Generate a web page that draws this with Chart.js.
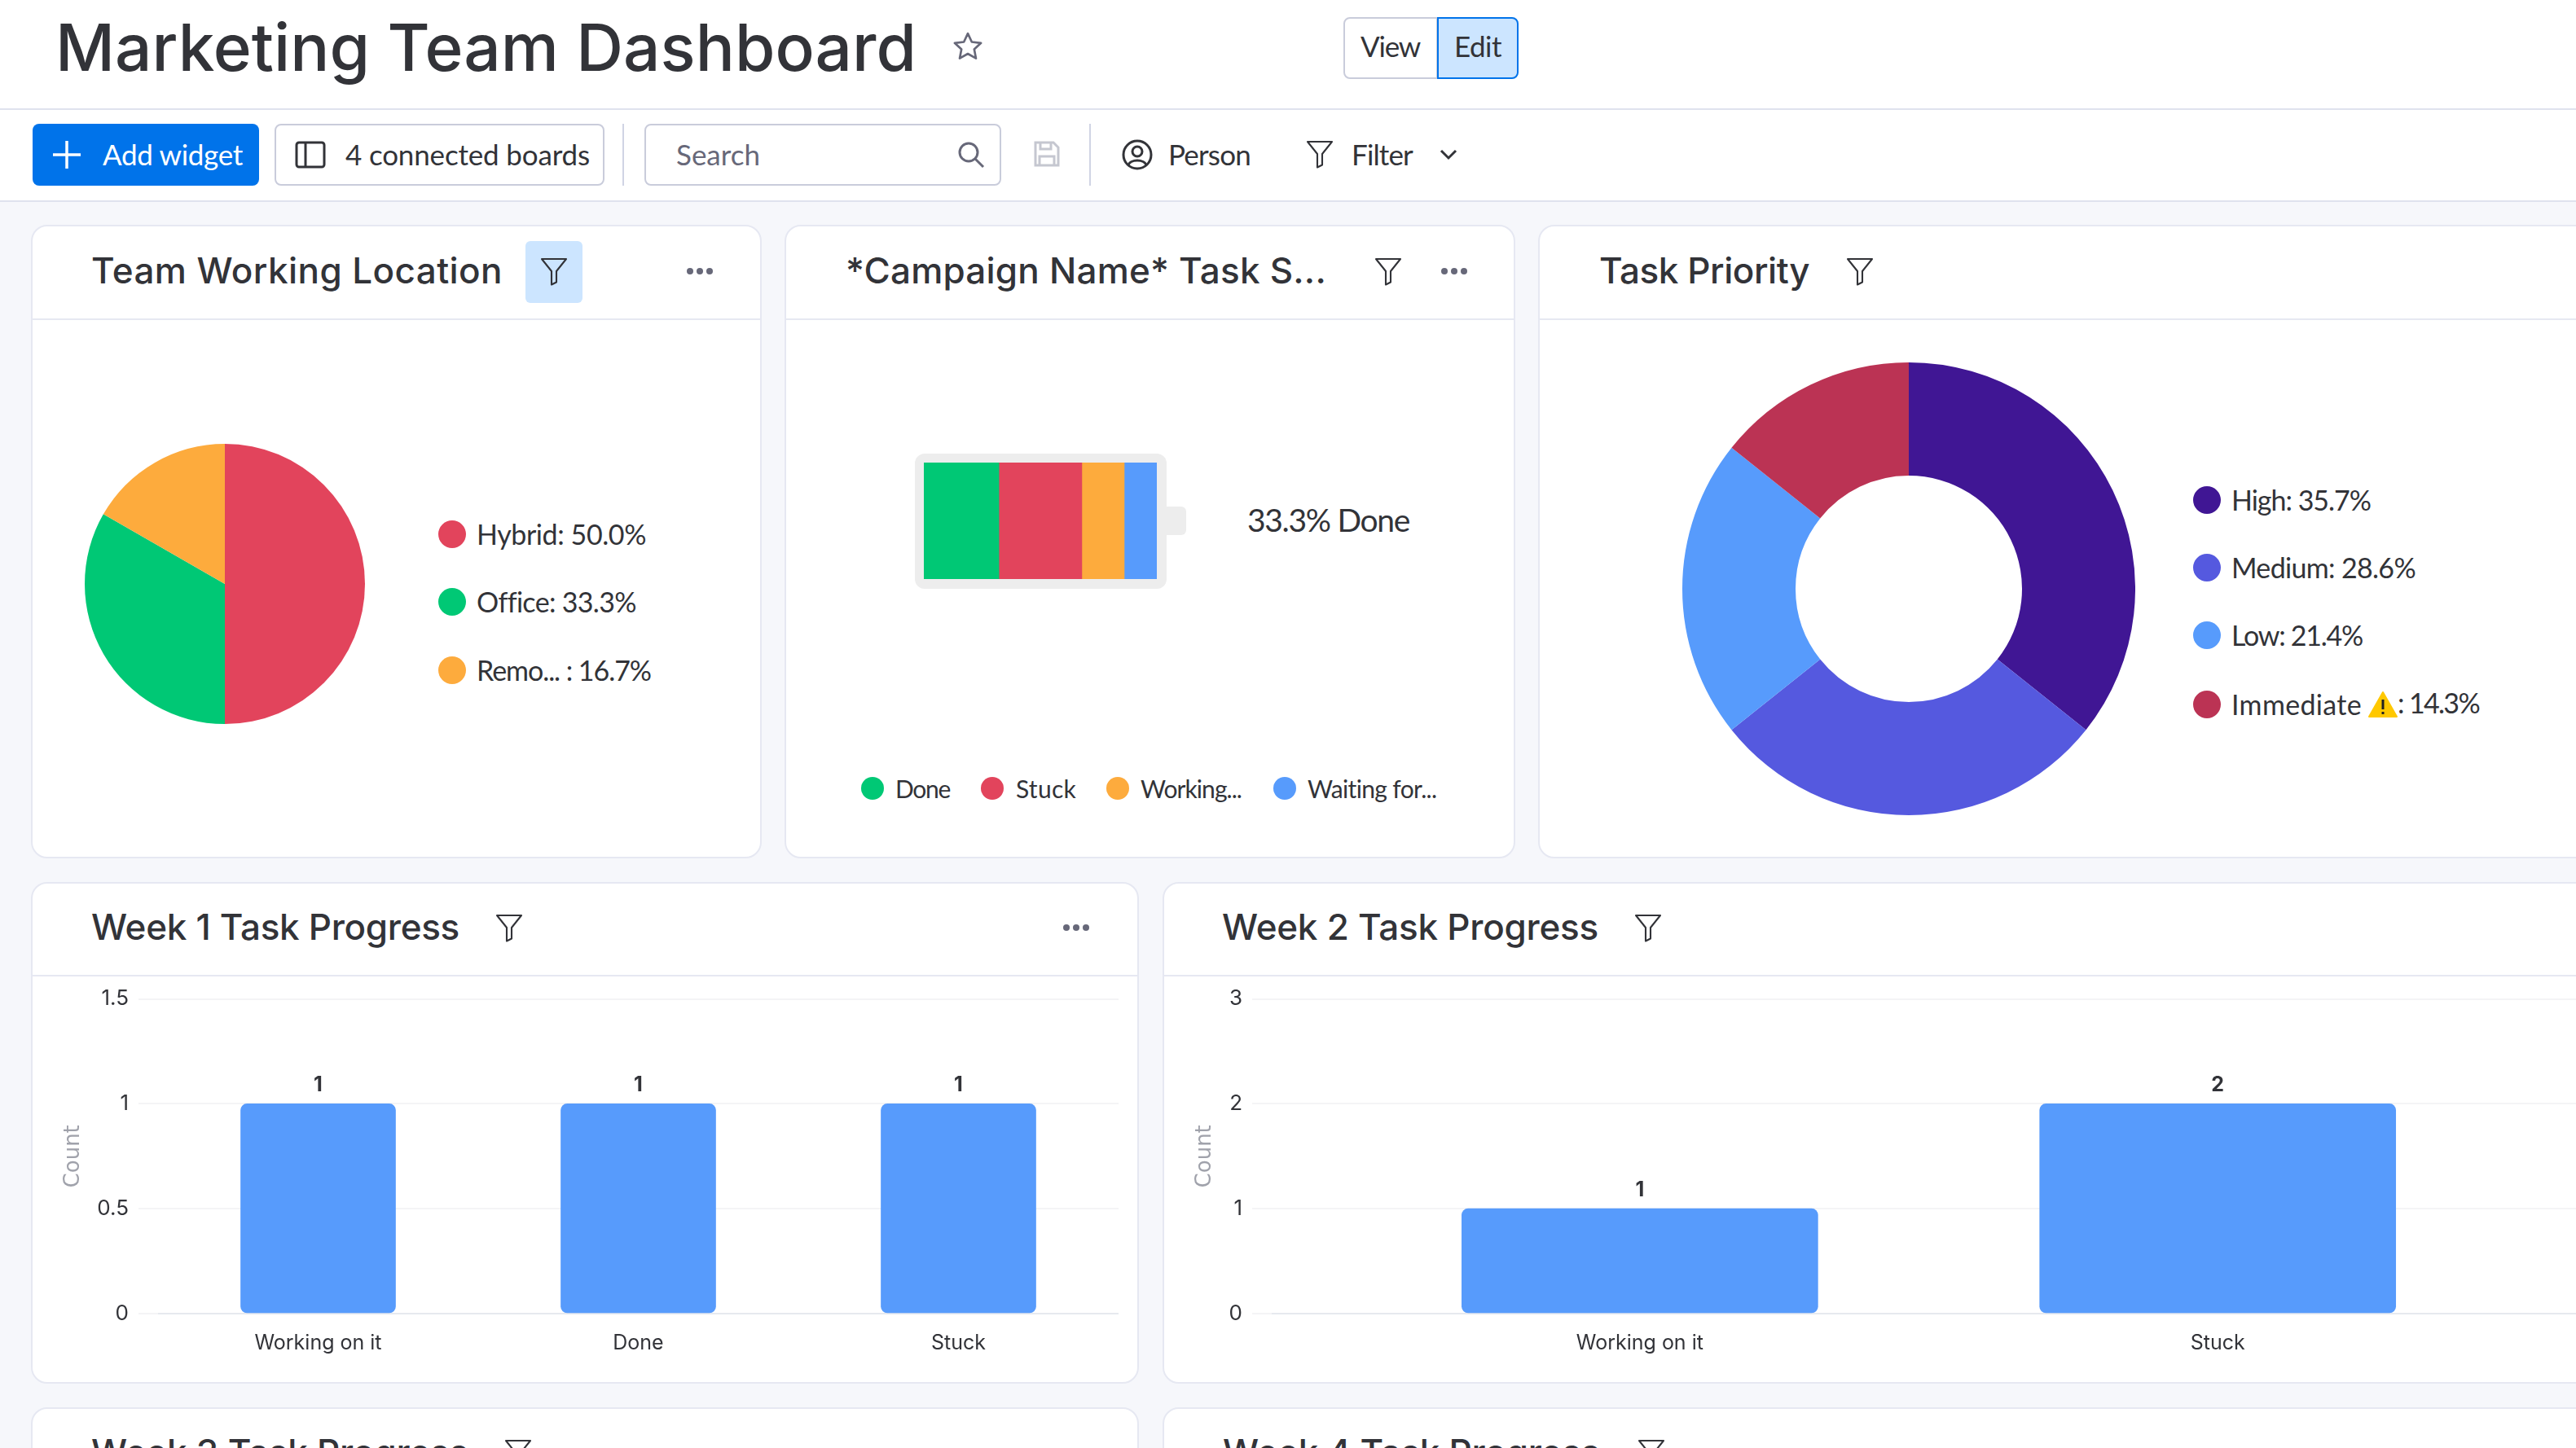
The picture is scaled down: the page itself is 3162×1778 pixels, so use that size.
<!DOCTYPE html>
<html>
<head>
<meta charset="utf-8">
<title>Marketing Team Dashboard</title>
<script src="https://cdn.jsdelivr.net/npm/chart.js@4"></script>
<style>
html, body { margin: 0; padding: 0; width: 3162px; height: 1778px; overflow: hidden; background: #f6f7fb; }
body { position: relative; font-family: Lato, sans-serif; color: #323338; }
div, canvas, svg { position: absolute; }
.t { white-space: nowrap; line-height: 1; transform: translateY(-50%); }
.title { font-family: Inter, sans-serif; font-weight: 500; font-size: 44px; }
.tool { font-size: 35px; }
.leg { font-size: 34px; }
.leg2 { font-size: 30px; }
.bar { background: #fff; }
.card { background: #fff; border: 2px solid #e6e8f2; border-radius: 20px; box-sizing: border-box; overflow: hidden; }
.hline { height: 2px; background: #e6e8f2; }
.btn { border: 2px solid #c9ccdb; border-radius: 8px; box-sizing: border-box; background: #fff; }
.sep { width: 2px; background: #d0d4e4; }
.dot { border-radius: 50%; }
.more { width: 8px; height: 8px; border-radius: 50%; background: #676879; }
</style>
</head>
<body>

<!-- page header -->
<div class="bar" style="left:0;top:0;width:3162px;height:247px"></div>
<div class="hline" style="left:0;top:133px;width:3162px;background:#dfe2ee"></div>
<div class="hline" style="left:0;top:246px;width:3162px;background:#dfe2ee"></div>
<div class="t" data-w="1057" style="left:68px;top:57px;font:500 80px Inter,sans-serif">Marketing Team Dashboard</div>
<svg style="left:1168px;top:37px" width="40" height="40" viewBox="0 0 24 24" fill="none" stroke="#676879" stroke-width="1.6" stroke-linejoin="round"><path d="M12 2.5l2.9 6.2 6.8.8-5 4.6 1.3 6.7-6-3.4-6 3.4 1.3-6.7-5-4.6 6.8-.8z"/></svg>
<div class="btn" style="left:1649px;top:21px;width:116px;height:76px;border-radius:8px 0 0 8px"></div>
<div class="btn" style="left:1764px;top:21px;width:100px;height:76px;border:2px solid #0073ea;border-radius:0 8px 8px 0;background:#cce5ff"></div>
<div class="t tool" data-w="73" style="left:1670px;top:56px">View</div>
<div class="t tool" data-w="58" style="left:1785px;top:56px">Edit</div>

<!-- toolbar -->
<div style="left:40px;top:152px;width:278px;height:76px;background:#0073ea;border-radius:8px"></div>
<svg style="left:62px;top:170px" width="40" height="40" viewBox="0 0 40 40" stroke="#fff" stroke-width="3.5"><path d="M20 3V37M3 20H37"/></svg>
<div class="t tool" data-w="172" style="left:126px;top:189px;color:#fff">Add widget</div>
<div class="btn" style="left:337px;top:152px;width:405px;height:76px"></div>
<svg style="left:362px;top:172px" width="38" height="36" viewBox="0 0 38 36" fill="none" stroke="#323338" stroke-width="3"><rect x="2" y="3" width="34" height="30" rx="3"/><path d="M13 3V33"/></svg>
<div class="t tool" data-w="300" style="left:424px;top:189px">4 connected boards</div>
<div class="sep" style="left:764px;top:152px;height:76px"></div>
<div class="btn" style="left:791px;top:152px;width:438px;height:76px"></div>
<div class="t tool" data-w="103" style="left:830px;top:189px;color:#676879">Search</div>
<svg style="left:1174px;top:172px" width="36" height="36" viewBox="0 0 36 36" fill="none" stroke="#676879" stroke-width="3"><circle cx="15" cy="15" r="11"/><path d="M23 23L33 33"/></svg>
<svg style="left:1268px;top:172px" width="34" height="34" viewBox="0 0 34 34" fill="none" stroke="#c5c7d0" stroke-width="3"><path d="M3 3H25L31 9V31H3Z"/><path d="M9 3V11H22V3M8 31V20H26V31"/></svg>
<div class="sep" style="left:1337px;top:152px;height:76px"></div>
<svg style="left:1377px;top:171px" width="38" height="38" viewBox="0 0 38 38" fill="none" stroke="#323338" stroke-width="3"><circle cx="19" cy="19" r="17"/><circle cx="19" cy="15" r="6"/><path d="M8 32C10 24 28 24 30 32"/></svg>
<div class="t tool" data-w="101" style="left:1434px;top:189px">Person</div>
<div class="t tool" data-w="75" style="left:1659px;top:189px">Filter</div>
<svg style="left:1767px;top:182px" width="22" height="16" viewBox="0 0 22 16" fill="none" stroke="#323338" stroke-width="3"><path d="M2 3L11 12L20 3"/></svg>

<!-- first row -->
<div class="card" style="left:38px;top:276px;width:897px;height:778px"></div>
<div class="card" style="left:963px;top:276px;width:897px;height:778px"></div>
<div class="card" style="left:1888px;top:276px;width:1400px;height:778px"></div>
<div class="hline" style="left:40px;top:391px;width:893px"></div>
<div class="hline" style="left:965px;top:391px;width:893px"></div>
<div class="hline" style="left:1890px;top:391px;width:1272px"></div>
<div class="t title" data-w="505" style="left:112px;top:332px">Team Working Location</div>
<div style="left:645px;top:296px;width:70px;height:76px;background:#cce5ff;border-radius:6px"></div>
<div class="t title" data-w="590" style="left:1038px;top:332px">*Campaign Name* Task S...</div>
<div class="t title" data-w="258" style="left:1963px;top:332px">Task Priority</div>

<canvas id="chartLocation" width="344" height="344" style="left:104px;top:545px"></canvas>
<canvas id="chartStatus" width="286" height="143" style="left:1134px;top:568px;z-index:2"></canvas>
<div style="left:1123px;top:557px;width:309px;height:166px;background:#ededed;border-radius:12px"></div>
<div style="left:1432px;top:622px;width:24px;height:35px;background:#ededed;border-radius:0 6px 6px 0"></div>
<div class="t" data-w="199" style="left:1531px;top:638px;font-size:39px">33.3% Done</div>
<canvas id="chartPriority" width="556" height="556" style="left:2065px;top:445px"></canvas>

<!-- second row -->
<div class="card" style="left:38px;top:1083px;width:1360px;height:616px"></div>
<div class="card" style="left:1427px;top:1083px;width:1800px;height:616px"></div>
<div class="hline" style="left:40px;top:1197px;width:1357px"></div>
<div class="hline" style="left:1429px;top:1197px;width:1733px"></div>
<div class="t title" data-w="452" style="left:112px;top:1138px">Week 1 Task Progress</div>
<div class="t title" data-w="462" style="left:1500px;top:1138px">Week 2 Task Progress</div>
<canvas id="chartWeek1" width="1357" height="498" style="left:40px;top:1199px"></canvas>
<canvas id="chartWeek2" width="1733" height="498" style="left:1429px;top:1199px"></canvas>

<!-- third row, cut by the window -->
<div class="card" style="left:38px;top:1728px;width:1360px;height:300px"></div>
<div class="card" style="left:1427px;top:1728px;width:1800px;height:300px"></div>
<div class="t title" data-w="463" style="left:112px;top:1783px">Week 3 Task Progress</div>
<div class="t title" data-w="463" style="left:1501px;top:1783px">Week 4 Task Progress</div>

<script>
// chart values
const locationNames = ['Hybrid', 'Office', 'Remo... '];
const locationValues = [50.0, 33.3, 16.7];
const statusNames = ['Done', 'Stuck', 'Working...', 'Waiting for...'];
const statusValues = [32.2, 35.6, 18.2, 14.0];
const priorityNames = ['High', 'Medium', 'Low', 'Immediate'];
const priorityValues = [35.7, 28.6, 21.4, 14.3];
const week1Labels = ['Working on it', 'Done', 'Stuck'];
const week1Values = [1, 1, 1];
const week1Ticks = [0, 0.5, 1, 1.5];
const week2Labels = ['Working on it', 'Stuck'];
const week2Values = [1, 2];
const week2Ticks = [0, 1, 2, 3];

const GREEN = '#00c875', RED = '#e2445c', ORANGE = '#fdab3d', BLUE = '#579bfc';
const locationColors = [RED, GREEN, ORANGE];
const statusColors = [GREEN, RED, ORANGE, BLUE];
const priorityColors = ['#401694', '#5559df', BLUE, '#bb3354'];

Chart.defaults.animation = false;
Chart.defaults.responsive = false;
Chart.defaults.font.family = 'Inter, sans-serif';
Chart.defaults.color = '#323338';

function pieChart(id, type, names, values, colors, cutout) {
    return new Chart(document.getElementById(id), {
        type: type,
        data: { labels: names, datasets: [{ data: values, backgroundColor: colors, borderWidth: 0 }] },
        options: { cutout: cutout, plugins: { legend: { display: false }, tooltip: { enabled: false } } }
    });
}

pieChart('chartLocation', 'pie', locationNames, locationValues, locationColors, 0);
pieChart('chartPriority', 'doughnut', priorityNames, priorityValues, priorityColors, '50%');

// battery is one stacked horizontal bar
new Chart(document.getElementById('chartStatus'), {
    type: 'bar',
    data: {
        labels: ['Status'],
        datasets: statusNames.map((name, i) => ({
            label: name, data: [statusValues[i]], backgroundColor: statusColors[i],
            barPercentage: 1, categoryPercentage: 1
        }))
    },
    options: {
        indexAxis: 'y',
        plugins: { legend: { display: false }, tooltip: { enabled: false } },
        scales: {
            x: { stacked: true, display: false, min: 0, max: 100 },
            y: { stacked: true, display: false }
        }
    }
});

// number above each bar
const valueLabels = {
    id: 'valueLabels',
    afterDatasetsDraw(chart) {
        const ctx = chart.ctx;
        ctx.save();
        ctx.font = '700 25px Inter, sans-serif';
        ctx.fillStyle = '#323338';
        ctx.textAlign = 'center';
        ctx.textBaseline = 'middle';
        chart.getDatasetMeta(0).data.forEach((bar, i) => {
            ctx.fillText(chart.data.datasets[0].data[i].y, bar.x, bar.y - 23);
        });
        ctx.restore();
    }
};

// x is a linear scale so the plot can start left of the first half slot, as in Week 2
function barChart(id, labels, values, yTicks, xMin, xMax, barWidth, axisWidth, paddingRight) {
    return new Chart(document.getElementById(id), {
        type: 'bar',
        data: {
            datasets: [{
                data: values.map((v, i) => ({ x: i, y: v })),
                backgroundColor: BLUE,
                barThickness: barWidth,
                borderRadius: 8,
                borderSkipped: false
            }]
        },
        plugins: [valueLabels],
        options: {
            layout: { padding: { top: 26, right: paddingRight } },
            plugins: { legend: { display: false }, tooltip: { enabled: false } },
            scales: {
                x: {
                    type: 'linear',
                    min: xMin,
                    max: xMax,
                    offset: false,
                    afterBuildTicks: s => { s.ticks = labels.map((_, i) => ({ value: i })); },
                    afterFit: s => { s.height = 84; },
                    grid: { display: false, drawTicks: false, offset: false },
                    border: { display: false },
                    ticks: {
                        autoSkip: false, maxRotation: 0, padding: 21, color: '#323338',
                        font: { size: 25 },
                        callback: v => labels[v]
                    }
                },
                y: {
                    min: yTicks[0],
                    max: yTicks[yTicks.length - 1],
                    afterBuildTicks: s => { s.ticks = yTicks.map(v => ({ value: v })); },
                    afterFit: s => { s.width = axisWidth; },
                    border: { display: false },
                    grid: {
                        lineWidth: 2,
                        tickLength: 24,
                        tickColor: '#f4f4f6',
                        color: c => c.tick.value === 0 ? '#e6e9ef' : '#f4f4f6'
                    },
                    ticks: { padding: 12, color: '#323338', font: { size: 26 }, callback: v => String(v) },
                    title: {
                        display: true, text: 'Count', color: '#a0a2ab',
                        font: { family: 'DejaVu Sans', size: 26 },
                        padding: { top: 35, bottom: 0 }
                    }
                }
            }
        }
    });
}

barChart('chartWeek1', week1Labels, week1Values, week1Ticks, -0.5, 2.5, 190, 154, 24);
barChart('chartWeek2', week2Labels, week2Values, week2Ticks, -0.637, 1.62, 437, 132, 0);

// html bits: legends and icons
function addEl(html) {
    document.body.insertAdjacentHTML('beforeend', html);
}

function legendItem(cls, color, text, dotX, textX, y, r, w) {
    addEl(`<div class="dot" style="left:${dotX - r}px;top:${y - r}px;width:${r * 2}px;height:${r * 2}px;background:${color}"></div>`);
    addEl(`<div class="t ${cls}" data-w="${w}" style="left:${textX}px;top:${y}px">${text}</div>`);
}

const pct = v => v.toFixed(1) + '%';

[656, 739, 823].forEach((y, i) => {
    legendItem('leg', locationColors[i], `${locationNames[i]}: ${pct(locationValues[i])}`, 555, 585, y, 17, [208, 194, 214][i]);
});
[[1071, 1099, 67], [1218, 1247, 74], [1372, 1400, 124], [1577, 1605, 159]].forEach((p, i) => {
    legendItem('leg2', statusColors[i], statusNames[i], p[0], p[1], 968, 14, p[2]);
});
[614, 697, 780].forEach((y, i) => {
    legendItem('leg', priorityColors[i], `${priorityNames[i]}: ${pct(priorityValues[i])}`, 2709, 2739, y, 17, [171, 226, 161][i]);
});
legendItem('leg', priorityColors[3], priorityNames[3], 2709, 2739, 865, 17, 160);
addEl(`<div class="t leg" data-w="100" style="left:2943px;top:863px">: ${pct(priorityValues[3])}</div>`);
addEl('<svg style="left:2907px;top:848px" width="36" height="34" viewBox="0 0 36 34"><path d="M18 2L35 32H1Z" fill="#ffc800" stroke="#ffc800" stroke-width="2" stroke-linejoin="round"/><path d="M18 11V23M18 26V29" stroke="#222" stroke-width="3"/></svg>');

function funnel(cx, cy, size) {
    addEl(`<svg style="left:${cx - size / 2}px;top:${cy - size / 2}px" width="${size}" height="${size}" viewBox="0 0 24 24" fill="none" stroke="#323338" stroke-width="1.4" stroke-linejoin="round"><path d="M2 2H22L14 12V21L10 23V12Z"/></svg>`);
}
function moreDots(cx, cy) {
    [-12, 0, 12].forEach(dx => addEl(`<div class="more" style="left:${cx + dx - 4}px;top:${cy - 4}px"></div>`));
}

[[1620, 189], [680, 333], [1704, 333], [2283, 333], [625, 1139], [2023, 1139], [636, 1784], [2027, 1784]].forEach(p => funnel(p[0], p[1], 36));
[[859, 333], [1785, 333], [1321, 1139]].forEach(p => moreDots(p[0], p[1]));

// match text widths to the picture with letter spacing
document.querySelectorAll('[data-w]').forEach(el => {
    const width = el.getBoundingClientRect().width;
    el.style.letterSpacing = ((+el.dataset.w - width) / el.textContent.length) + 'px';
});
</script>
</body>
</html>
